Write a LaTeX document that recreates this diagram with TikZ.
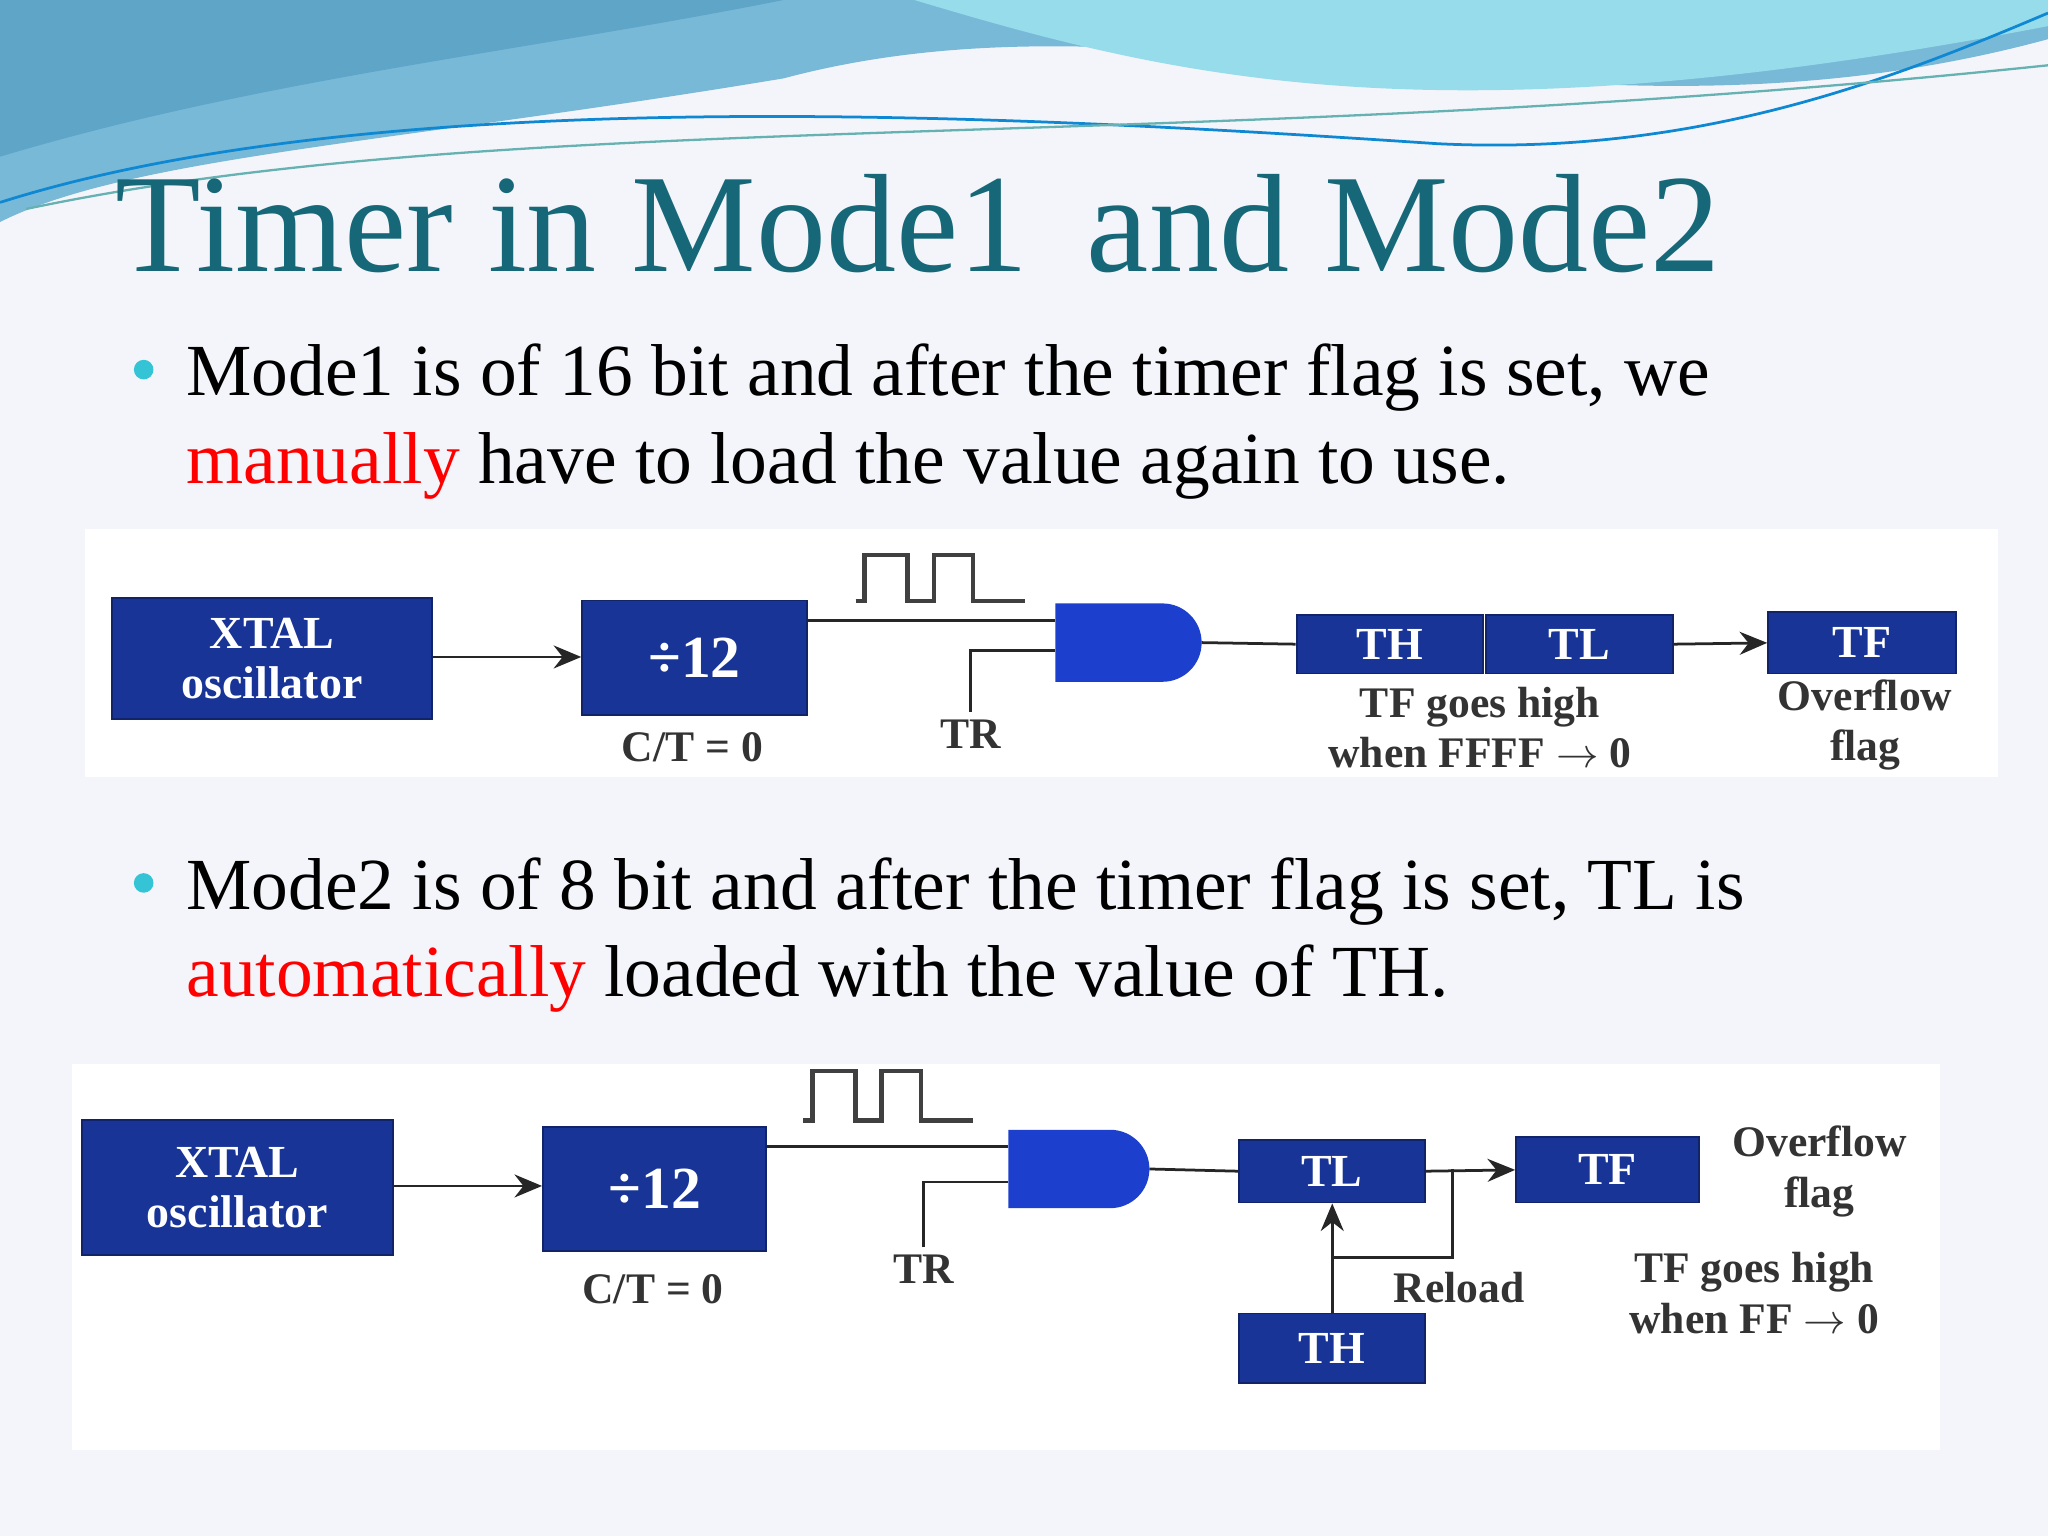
\documentclass[tikz,border=0pt]{standalone}
\usepackage{fontspec}
\setmainfont{Liberation Serif}
\usetikzlibrary{arrows.meta}
\definecolor{titlec}{RGB}{22,104,120}
\definecolor{boxc}{RGB}{24,52,150}
\definecolor{gatec}{RGB}{28,64,205}
\definecolor{bulc}{RGB}{52,196,214}
\definecolor{bgc}{RGB}{244,245,250}
\definecolor{wavea}{RGB}{120,185,215}
\definecolor{waveb}{RGB}{150,220,235}
\definecolor{wavec}{RGB}{95,165,200}
\tikzset{
 blk/.style={draw=boxc!70!black,fill=boxc,text=white,font=\bfseries\fontsize{10}{11}\selectfont,align=center,inner sep=0pt,anchor=north west},
 lbl/.style={font=\bfseries\fontsize{9.5}{11}\selectfont,text=black!80,align=center},
 wire/.style={draw=black!85,line width=0.6pt},
 arr/.style={wire,-{Stealth[length=6pt,width=5pt]}},
 body/.style={font=\fontsize{16}{19}\selectfont,anchor=base west,inner sep=0pt}
}
\begin{document}
\begin{tikzpicture}[x=1cm,y=1cm]
\useasboundingbox (0,0) rectangle (15.68,-11.76);
\fill[bgc] (0,0) rectangle (15.68,-11.76);
% top waves
\fill[wavea] (0,0) -- (15.68,0) -- (15.68,-0.3) .. controls (12,-1.3) and (9,0.2) .. (6,-0.6) .. controls (3,-1.1) and (1,-1.2) .. (0,-1.7) -- cycle;
\fill[waveb] (7,0) .. controls (9,-0.6) and (11,-1.1) .. (15.68,-0.2) -- (15.68,0) -- cycle;
\fill[wavec] (0,0) -- (6,0) .. controls (4,-0.4) and (2,-0.6) .. (0,-1.2) -- cycle;
\draw[cyan!70!blue,line width=0.6pt] (0,-1.55) .. controls (3,-0.6) and (8,-0.9) .. (11,-1.1) .. controls (13,-1.2) and (14.5,-0.6) .. (15.68,-0.1);
\draw[teal!60,line width=0.5pt] (0.2,-1.6) .. controls (4,-0.8) and (9,-1.2) .. (15.68,-0.5);
% title
\node[anchor=base west,inner sep=0pt,text=titlec,font=\fontsize{30.5}{34}\selectfont] (title) at (0.88,-2.08) {Timer in Mode1\, and Mode2};
% bullets
\fill[bulc] (1.10,-2.83) circle (0.075);
\node[body] (b1a) at (1.42,-3.03) {Mode1 is of 16 bit and after the timer flag is set, we};
\node[body] (b1b) at (1.42,-3.70) {\textcolor{red}{manually} have to load the value again to use.};
\fill[bulc] (1.10,-6.76) circle (0.075);
\node[body] (b2a) at (1.42,-6.96) {Mode2 is of 8 bit and after the timer flag is set, TL is};
\node[body] (b2b) at (1.42,-7.63) {\textcolor{red}{automatically} loaded with the value of TH.};
% panels
\fill[white] (0.65,-4.05) rectangle (15.30,-5.95);
\fill[white] (0.55,-8.15) rectangle (14.85,-11.10);
% ===== diagram 1
\node[blk,minimum width=2.45cm,minimum height=0.93cm] (x1) at (0.85,-4.57) {XTAL\\oscillator};
\node[blk,minimum width=1.72cm,minimum height=0.88cm,font=\bfseries\fontsize{13}{13}\selectfont] (d1) at (4.45,-4.59) {÷12};
\draw[arr] (x1.east |- 0,-5.03) -- (d1.west |- 0,-5.03);
\coordinate (g1) at (8.08,-4.62);
\fill[gatec] (g1) -- ++(0.82,0) arc (90:-90:0.30) -- ++(-0.82,0) -- cycle;
\coordinate (g1o) at (9.20,-4.92);
\draw[wire] (d1.east |- 0,-4.75) -- (8.08,-4.75);
\coordinate (tr1) at (7.43,-5.45);
\draw[wire] (tr1) |- (8.08,-4.98);
\node[lbl] (trl1) at (7.43,-5.62) {TR};
\draw[line width=1pt,black!75] (6.55,-4.60) -- (6.62,-4.60) -- (6.62,-4.25) -- (6.95,-4.25) -- (6.95,-4.60) -- (7.15,-4.60) -- (7.15,-4.25) -- (7.45,-4.25) -- (7.45,-4.60) -- (7.85,-4.60);
\node[blk,minimum width=1.43cm,minimum height=0.45cm] (th1) at (9.92,-4.70) {TH};
\node[blk,minimum width=1.43cm,minimum height=0.45cm] (tl1) at (11.37,-4.70) {TL};
\draw[wire] (g1o) -- (th1.west);
\node[blk,minimum width=1.44cm,minimum height=0.47cm] (tf1) at (13.53,-4.68) {TF};
\draw[arr] (tl1.east) -- (tf1.west);
\node[lbl] (ct1) at (5.30,-5.72) {C/T = 0};
\node[lbl] (tfg1) at (11.33,-5.57) {TF goes high\\when FFFF $\rightarrow$ 0};
\node[lbl] (of1) at (14.28,-5.55) {Overflow\\flag};
% ===== diagram 2
\node[blk,minimum width=2.38cm,minimum height=1.03cm] (x2) at (0.62,-8.57) {XTAL\\oscillator};
\node[blk,minimum width=1.71cm,minimum height=0.95cm,font=\bfseries\fontsize{13}{13}\selectfont] (d2) at (4.15,-8.62) {÷12};
\draw[arr] (x2.east |- 0,-9.08) -- (d2.west |- 0,-9.08);
\coordinate (g2) at (7.72,-8.65);
\fill[gatec] (g2) -- ++(0.78,0) arc (90:-90:0.30) -- ++(-0.78,0) -- cycle;
\coordinate (g2o) at (8.80,-8.95);
\draw[wire] (d2.east |- 0,-8.78) -- (7.72,-8.78);
\coordinate (tr2) at (7.07,-9.55);
\draw[wire] (tr2) |- (7.72,-9.05);
\node[lbl] (trl2) at (7.07,-9.72) {TR};
\draw[line width=1pt,black!75] (6.15,-8.58) -- (6.22,-8.58) -- (6.22,-8.20) -- (6.55,-8.20) -- (6.55,-8.58) -- (6.75,-8.58) -- (6.75,-8.20) -- (7.05,-8.20) -- (7.05,-8.58) -- (7.45,-8.58);
\node[blk,minimum width=1.42cm,minimum height=0.48cm] (tl2) at (9.48,-8.72) {TL};
\draw[wire] (g2o) -- (tl2.west);
\node[blk,minimum width=1.40cm,minimum height=0.50cm] (tf2) at (11.60,-8.70) {TF};
\draw[arr] (tl2.east) -- (tf2.west);
\node[blk,minimum width=1.42cm,minimum height=0.53cm] (th2) at (9.48,-10.05) {TH};
\coordinate (rl) at (11.12,-8.95);
\draw[wire] (rl) |- (10.20,-9.63);
\draw[arr] (th2.north -| 10.20,0) -- (tl2.south -| 10.20,0);
\node[lbl] (rll) at (11.17,-9.86) {Reload};
\node[lbl] (ct2) at (5.00,-9.87) {C/T = 0};
\node[lbl] (of2) at (13.93,-8.97) {Overflow\\flag};
\node[lbl] (tfg2) at (13.43,-9.90) {TF goes high\\when FF $\rightarrow$ 0};
\end{tikzpicture}
\end{document}
